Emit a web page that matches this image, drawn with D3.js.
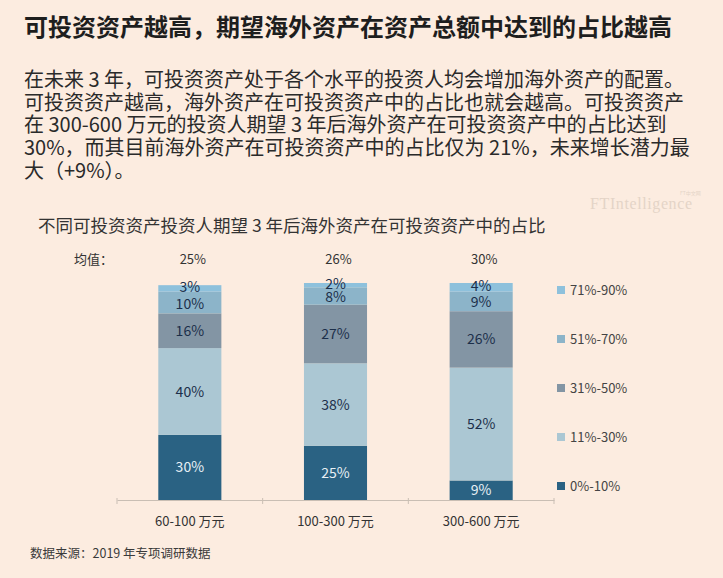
<!DOCTYPE html>
<html>
<head>
<meta charset="utf-8">
<script src="https://cdn.jsdelivr.net/npm/d3@7"></script>
<style>
  body { margin: 0; background: #fcece0; }
  svg { display: block; }
  text { font-family: "Noto Sans CJK SC", "Noto Sans", sans-serif; }
</style>
</head>
<body>
<div id="chart"></div>
<script>
        // Data
        const categories = ['60-100 万元', '100-300 万元', '300-600 万元'];
        const means = ['25%', '26%', '30%'];
        const seriesNames = ['0%-10%', '11%-30%', '31%-50%', '51%-70%', '71%-90%'];
        const seriesValues = [
            [30, 25, 9],   // 0%-10%
            [40, 38, 52],  // 11%-30%
            [16, 27, 26],  // 31%-50%
            [10, 8, 9],    // 51%-70%
            [3, 2, 4]      // 71%-90%
        ];
        const colors = ['#2a6283', '#abc7d3', '#8395a4', '#8cb4c9', '#8ec1dc'];

        const title = '可投资资产越高，期望海外资产在资产总额中达到的占比越高';
        const paragraph = [
            '在未来 3 年，可投资资产处于各个水平的投资人均会增加海外资产的配置。',
            '可投资资产越高，海外资产在可投资资产中的占比也就会越高。可投资资产',
            '在 300-600 万元的投资人期望 3 年后海外资产在可投资资产中的占比达到',
            '30%，而其目前海外资产在可投资资产中的占比仅为 21%，未来增长潜力最',
            '大（+9%）。'
        ];
        const subtitle = '不同可投资资产投资人期望 3 年后海外资产在可投资资产中的占比';
        const source = '数据来源：2019 年专项调研数据';

        const W = 723, H = 578;
        const svg = d3.select('#chart').append('svg')
            .attr('width', W).attr('height', H);

        svg.append('rect').attr('width', W).attr('height', H).attr('fill', '#fcece0');

        // Headline + paragraph
        svg.append('text').attr('x', 24).attr('y', 36)
            .attr('font-size', 24).attr('font-weight', 'bold').attr('fill', '#1e1e1e')
            .text(title);

        svg.selectAll('.para').data(paragraph).enter().append('text')
            .attr('class', 'para')
            .attr('x', 24).attr('y', (d, i) => 87 + i * 22.7)
            .attr('font-size', 20).attr('fill', '#2a2a2a')
            .text(d => d);

        // faint logo
        svg.append('text').attr('x', 590).attr('y', 209)
            .style('font-family', '"Liberation Serif", "DejaVu Serif", serif')
            .attr('font-size', 16).attr('fill', '#e4d4c7')
            .attr('textLength', 102)
            .text('FTIntelligence');
        svg.append('text').attr('x', 680).attr('y', 195)
            .attr('font-size', 5).attr('fill', '#e4d4c7')
            .text('FT中文网');

        svg.append('text').attr('x', 38).attr('y', 232)
            .attr('font-size', 17.5).attr('fill', '#333')
            .text(subtitle);

        // Scales
        const x = d3.scaleBand().domain(categories).range([117, 554])
            .paddingInner(0.567).paddingOuter(0.2835);
        const y = d3.scaleLinear().domain([0, 100]).range([500, 283]);

        // stack
        const rows = categories.map((c, j) => {
            const r = { category: c };
            seriesNames.forEach((s, i) => { r[s] = seriesValues[i][j]; });
            return r;
        });
        const stacked = d3.stack().keys(seriesNames)(rows);

        const layer = svg.selectAll('.layer').data(stacked).enter().append('g')
            .attr('class', 'layer')
            .attr('fill', (d, i) => colors[i]);

        layer.selectAll('rect').data(d => d).enter().append('rect')
            .attr('x', d => x(d.data.category))
            .attr('y', d => y(d[1]))
            .attr('width', x.bandwidth())
            .attr('height', d => y(d[0]) - y(d[1]));

        // segment labels; the thin top band label is nudged up a little
        layer.selectAll('text').data((d, i) => d.map(p => ({ p, i }))).enter().append('text')
            .attr('x', d => x(d.p.data.category) + x.bandwidth() / 2)
            .attr('y', d => (y(d.p[0]) + y(d.p[1])) / 2 - (d.i === 4 ? 1.5 : 0) + (d.i === 3 ? 1 : 0))
            .attr('dy', '0.36em')
            .attr('text-anchor', 'middle')
            .attr('font-size', 14)
            .attr('fill', d => d.i === 0 ? '#e8f0f5' : '#1c2f4a')
            .text(d => (d.p[1] - d.p[0]) + '%');

        // Axis
        const axisG = svg.append('g').attr('transform', 'translate(0,500)');
        axisG.call(d3.axisBottom(x).tickSize(0).tickPadding(17));
        axisG.select('.domain').attr('stroke', '#c9beb4');
        axisG.selectAll('.tick text')
            .attr('font-size', 13).attr('fill', '#333');
        const bounds = d3.scaleLinear().domain([0, categories.length]).range(x.range());
        axisG.selectAll('.bound').data(d3.range(categories.length + 1)).enter().append('line')
            .attr('class', 'bound')
            .attr('x1', d => bounds(d)).attr('x2', d => bounds(d))
            .attr('y1', -2).attr('y2', 4)
            .attr('stroke', '#c9beb4');

        // Means row
        svg.append('text').attr('x', 74).attr('y', 264)
            .attr('font-size', 13).attr('fill', '#333').text('均值：');
        svg.selectAll('.mean').data(means).enter().append('text')
            .attr('class', 'mean')
            .attr('x', (d, i) => x(categories[i]) + x.bandwidth() / 2 + 3)
            .attr('y', 264)
            .attr('text-anchor', 'middle')
            .attr('font-size', 13).attr('fill', '#333')
            .text(d => d);

        // Legend (top to bottom: highest band first)
        const legendOrder = seriesNames.map((s, i) => i).reverse();
        const lg = svg.selectAll('.lg').data(legendOrder).enter().append('g')
            .attr('class', 'lg')
            .attr('transform', (d, k) => `translate(557,${290 + k * 49})`);
        lg.append('rect').attr('x', 0).attr('y', -4).attr('width', 8).attr('height', 8)
            .attr('fill', d => colors[d]);
        lg.append('text').attr('x', 13).attr('dy', '0.36em')
            .attr('font-size', 13).attr('fill', '#444')
            .text(d => seriesNames[d]);

        // Source
        svg.append('text').attr('x', 30).attr('y', 558)
            .attr('font-size', 12.5).attr('fill', '#3a3a3a')
            .text(source);
</script>
</body>
</html>
